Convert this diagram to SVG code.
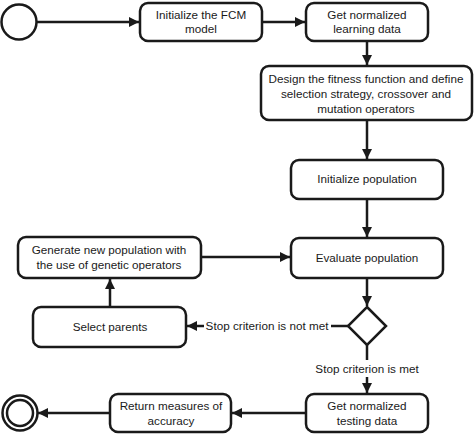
<svg xmlns="http://www.w3.org/2000/svg" width="474" height="434" viewBox="0 0 474 434">
<defs>
<marker id="ah" viewBox="0 0 10 10" refX="10" refY="5" markerWidth="10" markerHeight="10" markerUnits="userSpaceOnUse" orient="auto">
<path d="M0,0 L10,5 L0,10 Z" fill="#1a1a1a"/>
</marker>
<style>
.box{fill:#fff;stroke:#1a1a1a;stroke-width:2.5}
.ln{fill:none;stroke:#1a1a1a;stroke-width:2.5}
.arr{fill:none;stroke:#1a1a1a;stroke-width:2.5;marker-end:url(#ah)}
text{font-family:"Liberation Sans",Arial,sans-serif;font-size:11.7px;fill:#1a1a1a;text-anchor:middle}
</style>
</defs>
<rect width="474" height="434" fill="#fff"/>
<g id="connectors">
<line class="arr" x1="37" y1="22" x2="139" y2="22"/>
<line class="arr" x1="262" y1="22" x2="305" y2="22"/>
<line class="arr" x1="367" y1="41" x2="367" y2="65"/>
<line class="arr" x1="367" y1="120" x2="367" y2="159"/>
<line class="arr" x1="367" y1="199" x2="367" y2="237"/>
<line class="arr" x1="201" y1="257" x2="290" y2="257"/>
<line class="arr" x1="367" y1="278" x2="367" y2="306"/>
<line class="ln" x1="348" y1="326" x2="331" y2="326"/>
<line class="arr" x1="204" y1="326" x2="187" y2="326"/>
<line class="arr" x1="110" y1="307" x2="110" y2="279"/>
<line class="ln" x1="367" y1="344" x2="367" y2="360"/>
<line class="arr" x1="367" y1="377" x2="367" y2="393"/>
<line class="arr" x1="306" y1="413" x2="232" y2="413"/>
<line class="arr" x1="110" y1="413" x2="38" y2="413"/>
<text x="267" y="330">Stop criterion is not met</text>
<text x="367" y="373">Stop criterion is met</text>
</g>
<g id="start"><circle cx="19" cy="22" r="17.5" fill="#fff" stroke="#1a1a1a" stroke-width="2.5"/></g>
<g id="init-fcm"><rect class="box" x="140" y="3" width="122" height="38" rx="8"/><text x="201" y="19">Initialize the FCM</text><text x="201" y="33">model</text></g>
<g id="get-learning"><rect class="box" x="306" y="3" width="122" height="38" rx="8"/><text x="367" y="19">Get normalized</text><text x="367" y="33">learning data</text></g>
<g id="design"><rect class="box" x="261" y="66" width="211" height="54" rx="8"/><text x="366" y="83">Design the fitness function and define</text><text x="366" y="98">selection strategy, crossover and</text><text x="366" y="113">mutation operators</text></g>
<g id="init-pop"><rect class="box" x="291" y="160" width="152" height="39" rx="8"/><text x="367" y="183">Initialize population</text></g>
<g id="evaluate"><rect class="box" x="291" y="238" width="152" height="40" rx="8"/><text x="367" y="262">Evaluate population</text></g>
<g id="generate"><rect class="box" x="18" y="237" width="183" height="41" rx="8"/><text x="109" y="254">Generate new population with</text><text x="109" y="269">the use of genetic operators</text></g>
<g id="decision"><path d="M367,307 L386,326 L367,345 L348,326 Z" fill="#fff" stroke="#1a1a1a" stroke-width="2.5"/></g>
<g id="select"><rect class="box" x="33" y="307" width="153" height="40" rx="8"/><text x="110" y="331">Select parents</text></g>
<g id="get-testing"><rect class="box" x="306" y="394" width="122" height="38" rx="8"/><text x="367" y="410">Get normalized</text><text x="367" y="425">testing data</text></g>
<g id="return"><rect class="box" x="110" y="394" width="121" height="38" rx="8"/><text x="171" y="410">Return measures of</text><text x="171" y="425">accuracy</text></g>
<g id="end"><circle cx="20" cy="413" r="17.5" fill="#fff" stroke="#1a1a1a" stroke-width="2.5"/><circle cx="20" cy="413" r="13" fill="#fff" stroke="#1a1a1a" stroke-width="2.5"/></g>
</svg>
